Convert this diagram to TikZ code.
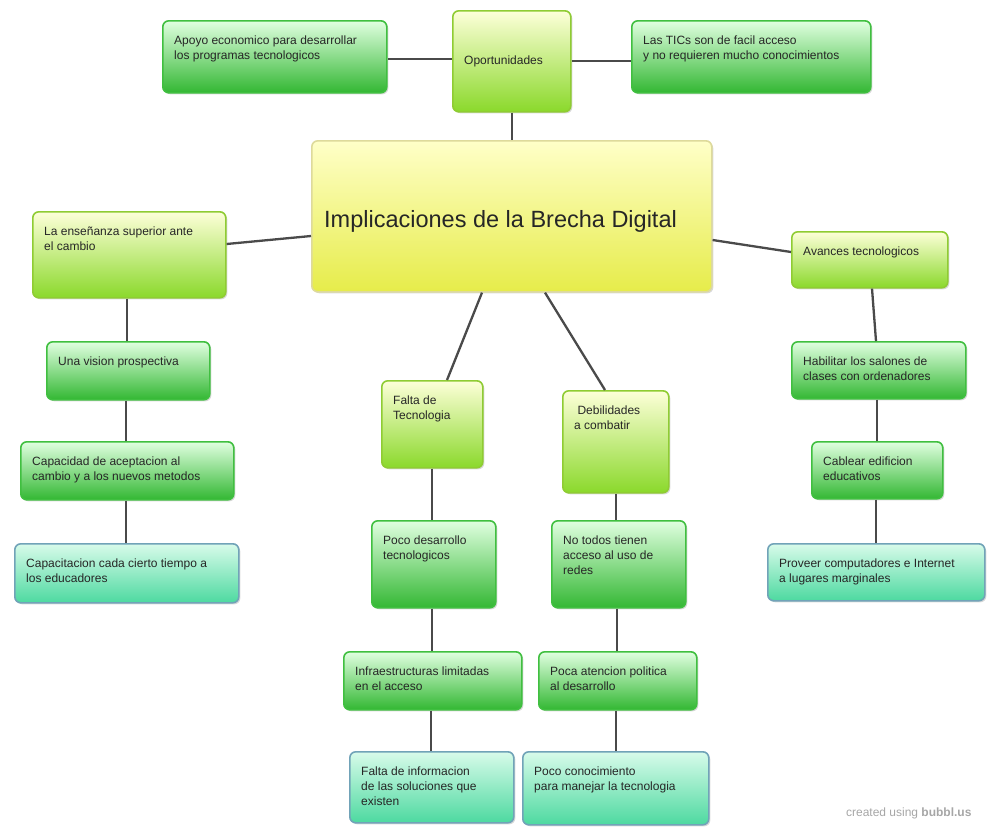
\documentclass[tikz,border=0pt]{standalone}
\usepackage{fontspec}
\setmainfont{Liberation Sans}
\usetikzlibrary{shadows}
\definecolor{lnc}{HTML}{4A4A4A}
\definecolor{yelbot}{HTML}{E6EC4A}
\definecolor{yeltop}{HTML}{FFFFC8}
\definecolor{tlbot}{HTML}{4DD9A0}
\definecolor{tltop}{HTML}{D8FBEA}
\tikzset{
 x=1pt,y=-1pt,
 base/.style={draw=white!70!gray, line width=1.6pt, rounded corners=6pt, drop shadow={opacity=0.3,shadow xshift=1.5pt,shadow yshift=-1.5pt}},
 yel/.style={base, top color=yeltop, bottom color=yelbot, draw=yellow!50!gray!60},
 yg/.style={base, top color=green!5!yellow!15!white, bottom color=green!45!yellow!80!white!85!black, draw=green!40!yellow!60!gray},
 gr/.style={base, top color=green!12!white, bottom color=green!65!black!80!white, draw=green!50!gray},
 tl/.style={base, top color=tltop, bottom color=tlbot, draw=cyan!40!gray},
 txt/.style={anchor=north west, align=left, font=\fontsize{12}{15}\selectfont, inner sep=0pt, text=black!85},
 ln/.style={draw=lnc, line width=2.3pt}
}
\newcommand{\bx}[7]{\node[#6, minimum width=#4-#2, minimum height=#5-#3, anchor=north west, inner sep=0pt] (#1) at (#2,#3) {};
 \node[txt] at (#2+12,#3+16) {#7};}
\begin{document}
\begin{tikzpicture}
\useasboundingbox (0,0) rectangle (995,836);
\bx{apoyo}{162}{20}{386}{92}{gr}{Apoyo economico para desarrollar\\los programas tecnologicos}
\node[yg, minimum width=118, minimum height=101, anchor=north west, inner sep=0pt] (oport) at (452,10) {};
\node[txt, anchor=west] at (464,61) {Oportunidades};
\bx{tics}{631}{20}{870}{92}{gr}{Las TICs son de facil acceso\\y no requieren mucho conocimientos}
\node[yel, minimum width=400, minimum height=151, anchor=north west, inner sep=0pt] (center) at (311,140) {};
\node[txt, anchor=west, font=\fontsize{23.5}{27}\selectfont] at (324,221) {Implicaciones de la Brecha Digital};
\bx{ens}{32}{211}{225}{297}{yg}{La enseñanza superior ante\\el cambio}
\bx{vision}{46}{341}{209}{399}{gr}{Una vision prospectiva}
\bx{capac}{20}{441}{233}{499}{gr}{Capacidad de aceptacion al\\cambio y a los nuevos metodos}
\bx{capt}{14}{543}{238}{602}{tl}{Capacitacion cada cierto tiempo a\\los educadores}
\bx{falta}{381}{380}{482}{467}{yg}{Falta de\\Tecnologia}
\bx{poco}{371}{520}{495}{607}{gr}{Poco desarrollo\\tecnologicos}
\bx{infra}{343}{651}{521}{709}{gr}{Infraestructuras limitadas\\en el acceso}
\bx{finfo}{349}{751}{513}{822}{tl}{Falta de informacion\\de las soluciones que\\existen}
\bx{debil}{562}{390}{668}{492}{yg}{\ Debilidades\\a combatir}
\bx{notodos}{551}{520}{685}{607}{gr}{No todos tienen\\acceso al uso de\\redes}
\bx{pocaat}{538}{651}{696}{709}{gr}{Poca atencion politica\\al desarrollo}
\bx{pococ}{522}{751}{708}{824}{tl}{Poco conocimiento\\para manejar la tecnologia}
\bx{avan}{791}{231}{947}{287}{yg}{Avances tecnologicos}
\bx{habil}{791}{341}{965}{398}{gr}{Habilitar los salones de\\clases con ordenadores}
\bx{cabl}{811}{441}{942}{498}{gr}{Cablear edificion\\educativos}
\bx{prov}{767}{543}{984}{600}{tl}{Proveer computadores e Internet\\a lugares marginales}
\node[anchor=east, text=gray!70, font=\fontsize{12}{14}\selectfont] (credit) at (975,813) {created using \textbf{bubbl.us}};
% connectors
\draw[ln] (oport.west |- 0,59) -- (apoyo.east |- 0,59);
\draw[ln] (oport.east |- 0,61) -- (tics.west |- 0,61);
\draw[ln] (oport.south) -- (center.north -| oport.south);
\draw[ln] (center.west |- 0,236) -- (ens.east |- 0,244);
\draw[ln] (center.south -| 482,0) -- (falta.north -| 447,0);
\draw[ln] (center.south -| 545,0) -- (debil.north -| 605,0);
\draw[ln] (center.east |- 0,240) -- (avan.west |- 0,252);
\draw[ln] (ens.south -| 127,0) -- (vision.north -| 127,0);
\draw[ln] (vision.south -| 126,0) -- (capac.north -| 126,0);
\draw[ln] (capac.south -| 126,0) -- (capt.north -| 126,0);
\draw[ln] (falta.south -| 432,0) -- (poco.north -| 432,0);
\draw[ln] (poco.south -| 432,0) -- (infra.north -| 432,0);
\draw[ln] (infra.south -| 431,0) -- (finfo.north -| 431,0);
\draw[ln] (debil.south -| 616,0) -- (notodos.north -| 616,0);
\draw[ln] (notodos.south -| 617,0) -- (pocaat.north -| 617,0);
\draw[ln] (pocaat.south -| 616,0) -- (pococ.north -| 616,0);
\draw[ln] (avan.south -| 872,0) -- (habil.north -| 876,0);
\draw[ln] (habil.south -| 877,0) -- (cabl.north -| 877,0);
\draw[ln] (cabl.south -| 876,0) -- (prov.north -| 876,0);
\end{tikzpicture}
\end{document}
